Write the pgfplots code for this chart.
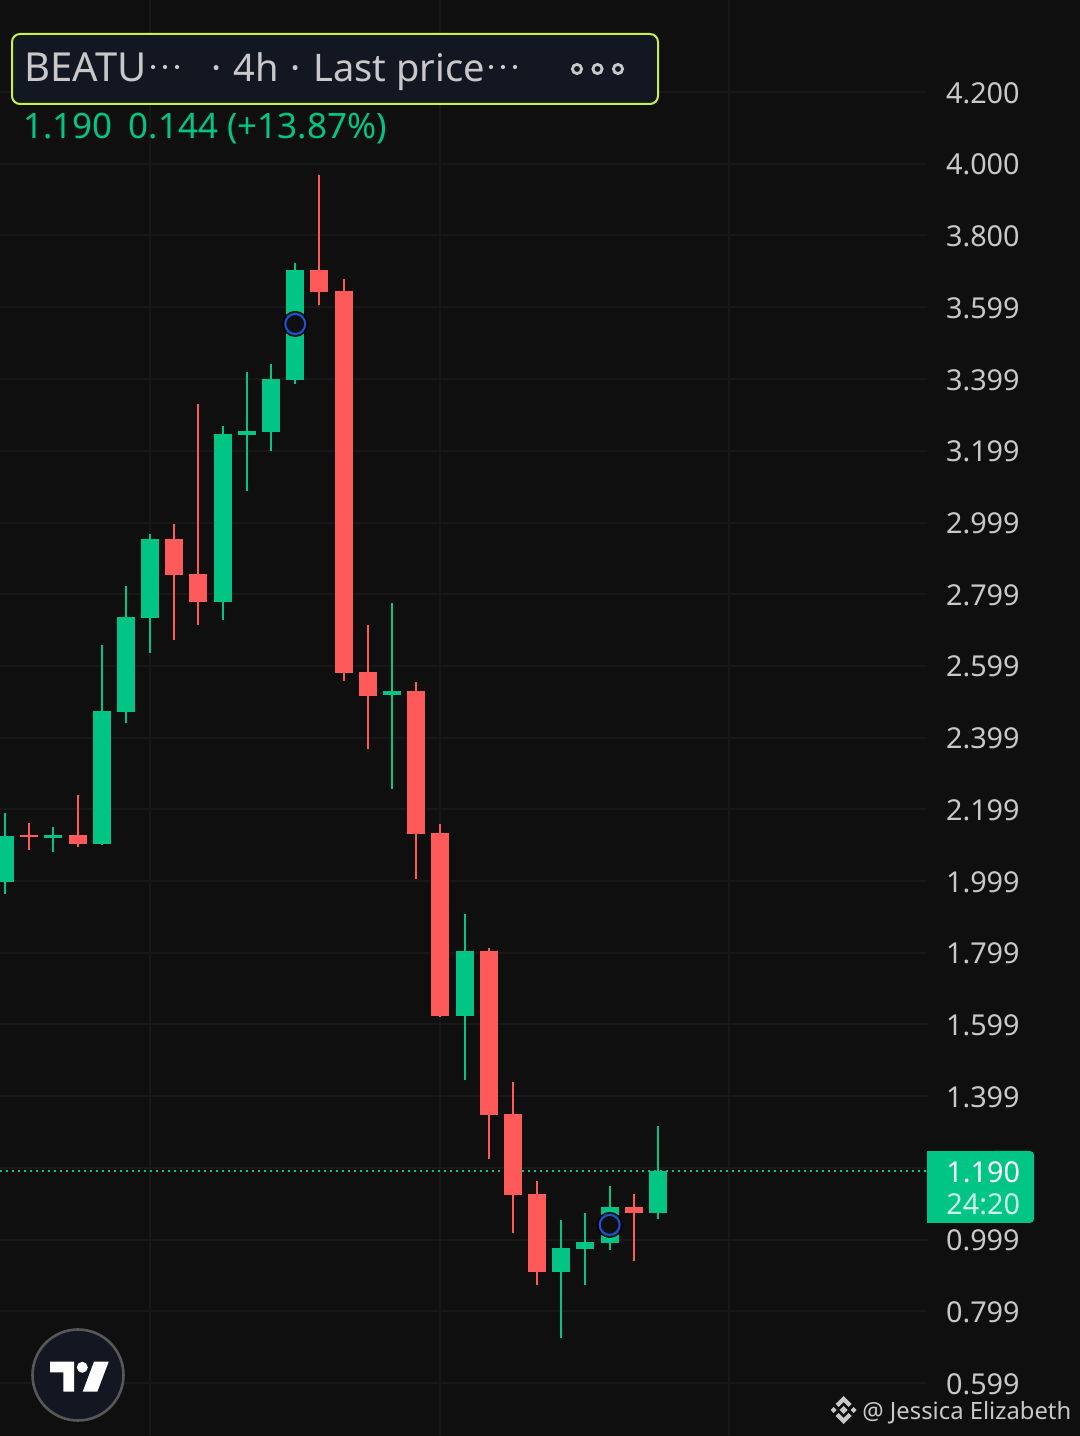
\documentclass[border=0pt]{standalone}
\usepackage{fontspec}
\setmainfont{Noto Sans}
\usepackage{pgfplots}
\usepackage{pgfplotstable}
\pgfplotsset{compat=1.18}
\definecolor{bgc}{HTML}{0F0F0F}
\definecolor{gridc}{HTML}{181818}
\definecolor{upc}{HTML}{00C585}
\definecolor{downc}{HTML}{FF5A5A}
\definecolor{txtc}{HTML}{C8C8C8}
\definecolor{limec}{HTML}{C8F04A}
\definecolor{boxc}{HTML}{131722}
\definecolor{ringc}{HTML}{1F52DC}
\pgfplotstableread{
i high top bot low
0 2.189 2.125 1.996 1.963
2 2.150 2.128 2.119 2.080
4 2.658 2.473 2.102 2.100
5 2.822 2.736 2.471 2.440
6 2.967 2.953 2.733 2.635
9 3.268 3.246 2.777 2.727
10 3.419 3.254 3.243 3.087
11 3.441 3.399 3.252 3.199
12 3.723 3.703 3.397 3.386
16 2.775 2.529 2.518 2.256
19 1.907 1.804 1.623 1.444
23 1.054 0.976 0.909 0.725
24 1.073 0.992 0.973 0.872
25 1.149 1.090 0.990 0.970
27 1.316 1.190 1.073 1.056
}\upcandles
\pgfplotstableread{
i high top bot low
1 2.161 2.128 2.122 2.086
3 2.239 2.128 2.102 2.094
7 2.995 2.953 2.853 2.671
8 3.330 2.856 2.777 2.713
13 3.969 3.703 3.642 3.606
14 3.678 3.645 2.579 2.557
15 2.713 2.582 2.515 2.367
17 2.554 2.529 2.130 2.005
18 2.158 2.133 1.623 1.620
20 1.812 1.804 1.347 1.224
21 1.439 1.349 1.123 1.017
22 1.162 1.126 0.909 0.872
26 1.126 1.090 1.073 0.939
}\downcandles
\pgfplotsset{
  wick/.style={draw=none,no markers,forget plot,
    error bars/.cd,y dir=plus,y explicit,error mark=none,
    error bar style={line width=1pt,color=#1}},
  body/.style={draw=none,no markers,forget plot,
    error bars/.cd,y dir=plus,y explicit,error mark=none,
    error bar style={line width=9pt,color=#1}},
}
\begin{document}
\begin{tikzpicture}[x=1pt,y=1pt]
\useasboundingbox (0,0) rectangle (540,718);
\fill[bgc] (0,0) rectangle (540,718);
\begin{axis}[
  at={(0,0)},anchor=south west,
  scale only axis,width=463.5pt,height=718pt,
  xmin=-0.2067,xmax=38.12,ymin=0.4512,ymax=4.4566,
  axis line style={draw=none},
  xtick={6,18,29.93},xticklabel=\empty,
  ytick={0.599,0.799,0.999,1.199,1.399,1.599,1.799,1.999,2.199,2.399,2.599,2.799,2.999,3.199,3.399,3.599,3.8,4.0,4.2},
  yticklabels={0.599,0.799,0.999,,1.399,1.599,1.799,1.999,2.199,2.399,2.599,2.799,2.999,3.199,3.399,3.599,3.800,4.000,4.200},
  yticklabel pos=right,
  tick style={draw=none},
  grid=major,grid style={gridc,line width=1pt},
  yticklabel style={anchor=west,xshift=6pt,yshift=-0.4pt,color=txtc,font=\fontsize{14.4}{16}\selectfont},
  clip=true,
]
\addplot[upc,line width=1pt,dash pattern=on 1pt off 2pt,forget plot] coordinates {(-0.2067,1.190) (38.12,1.190)};
\addplot[wick=upc] table[x=i,y=low,y error plus expr=\thisrow{high}-\thisrow{low}] {\upcandles};
\addplot[body=upc] table[x=i,y=bot,y error plus expr=\thisrow{top}-\thisrow{bot}] {\upcandles};
\addplot[wick=downc] table[x=i,y=low,y error plus expr=\thisrow{high}-\thisrow{low}] {\downcandles};
\addplot[body=downc] table[x=i,y=bot,y error plus expr=\thisrow{top}-\thisrow{bot}] {\downcandles};
\addplot[only marks,mark=*,mark size=6.3pt,mark options={draw=none,fill=black,fill opacity=0.8},forget plot] coordinates {(12,3.553) (25,1.040)};
\addplot[only marks,mark=*,mark size=5pt,mark options={draw=ringc,fill=bgc,line width=1pt},forget plot] coordinates {(12,3.553) (25,1.040)};
\end{axis}
\begin{scope}[shift={(0,718)},x=0.5pt,y=-0.5pt]
  % price tag
  \fill[upc,rounded corners=2pt] (990,1151) -- (1034,1151) -- (1034,1223) -- (990,1223) -- cycle;
  \fill[upc] (927,1151) rectangle (1000,1223);
  \node[anchor=base west,inner sep=0,text=white,font=\fontsize{14.4}{16}\selectfont] at (946,1183) {1.190};
  \node[anchor=base west,inner sep=0,text=white!80!upc,font=\fontsize{14.4}{16}\selectfont] at (946,1215) {24:20};
  % header
  \draw[limec,fill=boxc,line width=1pt,rounded corners=4pt] (12,34) rectangle (658,104);
  \node[anchor=base west,inner sep=0,text=txtc,font=\fontsize{20}{22}\selectfont] at (24,82) {BEATU};
  \node[anchor=base west,inner sep=0,text=txtc,font=\fontsize{19}{22}\selectfont] at (211,82) {·};
  \node[anchor=base west,inner sep=0,text=txtc,font=\fontsize{19}{22}\selectfont] at (233,82) {4h};
  \node[anchor=base west,inner sep=0,text=txtc,font=\fontsize{19}{22}\selectfont] at (290,82) {·};
  \node[anchor=base west,inner sep=0,text=txtc,font=\fontsize{19}{22}\selectfont] at (313,82) {Last price};
  \foreach \px in {153,165,177,491,503,515}
    \fill[txtc] (\px,67) circle (2.1);
  \foreach \px in {577,597.5,618}
    \draw[txtc,line width=1.4pt] (\px,69) circle (4.6);
  \node[anchor=base west,inner sep=0,text=upc,font=\fontsize{17.5}{20}\selectfont] at (23,139) {1.190\hspace{8pt}0.144 (+13.87\%)};
  % logo
  \draw[fill=boxc,draw=white!30!bgc,line width=1.3pt] (78,1375) circle (45.5);
  \fill[white] (50,1361.7) -- (74,1361.7) -- (74,1391.7) -- (63.3,1391.7) -- (63.3,1372.3) -- (50,1372.3) -- cycle;
  \fill[white] (82.3,1367.3) circle (5.5);
  \fill[white] (94,1361.7) -- (108.7,1361.7) -- (97.3,1391.7) -- (82.7,1391.7) -- cycle;
  % watermark
  \begin{scope}[shift={(843.5,1410)}]
    \fill[txtc] (0,-4)--(4,0)--(0,4)--(-4,0)--cycle;
    \fill[txtc] (-10,-3)--(-7,0)--(-10,3)--(-13,0)--cycle;
    \fill[txtc] (10,-3)--(13,0)--(10,3)--(7,0)--cycle;
    \fill[txtc] (0,-14)--(8,-6)--(5,-3)--(0,-8)--(-5,-3)--(-8,-6)--cycle;
    \fill[txtc] (0,14)--(8,6)--(5,3)--(0,8)--(-5,3)--(-8,6)--cycle;
  \end{scope}
  \node[anchor=base west,inner sep=0,text=txtc,font=\fontsize{11.9}{15}\selectfont] at (862,1419) {@ Jessica Elizabeth};
\end{scope}
\end{tikzpicture}
\end{document}
